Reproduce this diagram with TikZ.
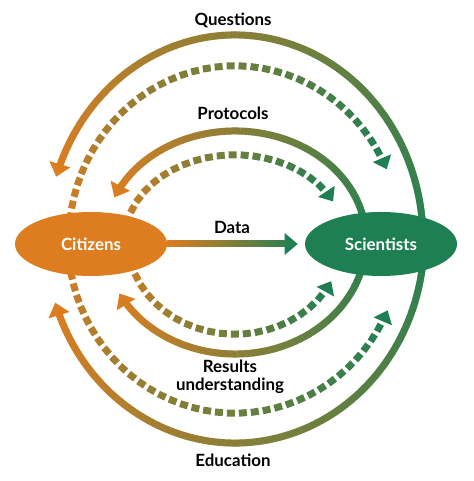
\documentclass[tikz,border=0pt]{standalone}
\usepackage{fontspec}
\setmainfont{Lato}
\usetikzlibrary{shapes.geometric,decorations.markings}

\definecolor{orng}{RGB}{221,125,32}
\definecolor{grn}{RGB}{30,128,82}

\tikzset{
    actor/.style = {ellipse, fill=#1, text=white, minimum width=3.8cm, minimum height=1.6cm, inner sep=0pt, font=\fontsize{12}{13}\selectfont\bfseries},
    lbl/.style = {text=black, align=center, font=\fontsize{12}{13}\selectfont\bfseries},
    solidgrad/.style 2 args = {decoration={markings,
        mark=at position 0 with {\fill[#1] (0,0) -- (13,-11) -- (13,11) -- cycle;},
        mark=between positions 4pt and 1 step 1pt with {
            \pgfmathsetmacro\pct{\pgfkeysvalueof{/pgf/decoration/mark info/distance from start}/\pgfdecoratedpathlength*100}
            \fill[fill=#2!\pct!#1] (-0.9,-3.5) rectangle (0.9,3.5);}},
        decorate},
    dashgrad/.style 2 args = {decoration={markings,
        mark=at position 0 with {\fill[#1] (0,0) -- (12,-10) -- (12,10) -- cycle;},
        mark=between positions 11pt and 1 step 8.5pt with {
            \pgfmathsetmacro\pct{\pgfkeysvalueof{/pgf/decoration/mark info/distance from start}/\pgfdecoratedpathlength*100}
            \fill[fill=#2!\pct!#1] (0,-3.5) rectangle (8,3.5);}},
        decorate}
}

\begin{document}
\begin{tikzpicture}[x=0.025cm, y=0.025cm]
    \useasboundingbox (0,0) rectangle (474,481);
    \coordinate (mid) at (235,241);
    % all loops are drawn back from their tips
    \path[solidgrad={orng}{grn}] ([shift={(162:188 and 205)}]mid) arc[start angle=162, end angle=0, x radius=188, y radius=205];
    \path[solidgrad={orng}{grn}] ([shift={(-162:189 and 203)}]mid) arc[start angle=-162, end angle=0, x radius=189, y radius=203];
    \path[solidgrad={orng}{grn}] ([shift={(157:131 and 109)}]mid) arc[start angle=157, end angle=0, x radius=131, y radius=109];
    \path[solidgrad={orng}{grn}] ([shift={(-152:131 and 114)}]mid) arc[start angle=-152, end angle=0, x radius=131, y radius=114];
    \path[dashgrad={grn}{orng}] ([shift={(24:166 and 174)}]mid) arc[start angle=24, end angle=180, x radius=166, y radius=174];
    \path[dashgrad={grn}{orng}] ([shift={(-24:167 and 173)}]mid) arc[start angle=-24, end angle=-180, x radius=167, y radius=173];
    \path[dashgrad={grn}{orng}] ([shift={(27:110 and 85)}]mid) arc[start angle=27, end angle=180, x radius=110, y radius=85];
    \path[dashgrad={grn}{orng}] ([shift={(-26:107 and 94)}]mid) arc[start angle=-26, end angle=-180, x radius=107, y radius=94];
    \node[actor=orng] (cit) at (91,237) {Citizens};
    \node[actor=grn] (sci) at (381,237) {Scientists};
    \path[solidgrad={grn}{orng}] ([xshift=-5pt]sci.west) -- (cit.east);
    \node[lbl] (qlab) at (233,461) {Questions};
    \node[lbl] (plab) at (233,368) {Protocols};
    \node[lbl] (dlab) at (232,254) {Data};
    \node[lbl] (rlab) at (230,104) {Results\\understanding};
    \node[lbl] (elab) at (233,21) {Education};
\end{tikzpicture}
\end{document}
